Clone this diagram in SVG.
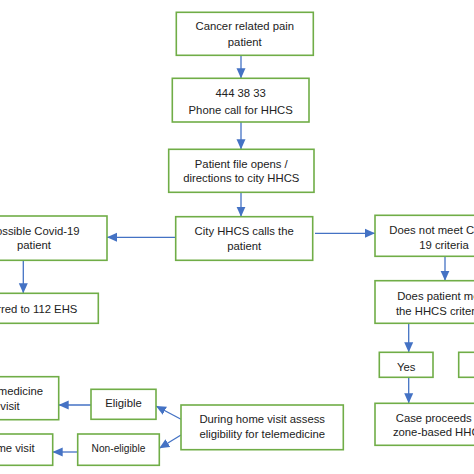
<svg xmlns="http://www.w3.org/2000/svg" width="474" height="474" viewBox="0 0 474 474">
<style>
.box{fill:#fff;stroke:#70AD47;stroke-width:1.6}
.t{font-family:"Liberation Sans",Arial,sans-serif;font-size:11.3px;fill:#222;text-anchor:middle}
.s{font-size:10.2px}
.c{stroke:#4472C4;stroke-width:1.3;fill:none;marker-end:url(#ah)}
</style>
<defs>
<marker id="ah" markerUnits="userSpaceOnUse" markerWidth="10" markerHeight="10" viewBox="0 0 10 10" refX="10" refY="5" orient="auto">
<path d="M0,0.5 L10,5 L0,9.5 Z" fill="#4472C4"/>
</marker>
</defs>
<rect width="474" height="474" fill="#fff"/>
<g id="connectors">
<line class="c" x1="241" y1="55.3" x2="241" y2="78.3"/>
<line class="c" x1="241" y1="122" x2="241" y2="149.3"/>
<line class="c" x1="241" y1="192.3" x2="241" y2="216.7"/>
<line class="c" x1="175.7" y1="237.3" x2="107" y2="237.3"/>
<line class="c" x1="315" y1="233.3" x2="375" y2="233.3"/>
<line class="c" x1="23.3" y1="260.3" x2="23.3" y2="293.3"/>
<line class="c" x1="445" y1="256.3" x2="445" y2="280.7"/>
<line class="c" x1="408.7" y1="323.3" x2="408.7" y2="352.3"/>
<line class="c" x1="408.7" y1="377.3" x2="408.7" y2="403.3"/>
<line class="c" x1="181" y1="419.3" x2="156" y2="406"/>
<line class="c" x1="181" y1="435" x2="159.3" y2="448.3"/>
<line class="c" x1="91" y1="405" x2="58.7" y2="405"/>
<line class="c" x1="80" y1="452" x2="52.7" y2="452"/>
</g>
<g id="n1"><rect class="box" x="176.3" y="12.3" width="137" height="43"/><text class="t" x="244.8" y="30">Cancer related pain</text><text class="t" x="244.8" y="45.7">patient</text></g>
<g id="n2"><rect class="box" x="172.3" y="78.3" width="136.7" height="43.7"/><text class="t" x="240.7" y="96.7">444 38 33</text><text class="t" x="240.7" y="113.5">Phone call for HHCS</text></g>
<g id="n3"><rect class="box" x="168.7" y="149.3" width="145.3" height="43"/><text class="t" x="241.3" y="168">Patient file opens /</text><text class="t" x="241.3" y="182.3">directions to city HHCS</text></g>
<g id="n4"><rect class="box" x="175.7" y="216.7" width="137" height="43.6"/><text class="t" x="244.2" y="235">City HHCS calls the</text><text class="t" x="244.2" y="250">patient</text></g>
<g id="n5"><rect class="box" x="-39" y="216" width="146" height="44.3"/><text class="t" x="34" y="234.7">Possible Covid-19</text><text class="t" x="34" y="249.3">patient</text></g>
<g id="n6"><rect class="box" x="-47.7" y="293.3" width="146" height="30"/><text class="t" x="25.3" y="313">Referred to 112 EHS</text></g>
<g id="n7"><rect class="box" x="375" y="215.3" width="138" height="41"/><text class="t" x="444" y="234">Does not meet Covid-</text><text class="t" x="444" y="248.7">19 criteria</text></g>
<g id="n8"><rect class="box" x="375" y="280.7" width="138" height="42.6"/><text class="t" x="443" y="299.7">Does patient meet</text><text class="t" x="443" y="314.7">the HHCS criteria?</text></g>
<g id="n9"><rect class="box" x="379.3" y="352.3" width="53.7" height="25"/><text class="t" x="406.2" y="370.7">Yes</text></g>
<g id="n10"><rect class="box" x="458.7" y="352.3" width="53.7" height="25"/><text class="t" x="485.5" y="370.7">No</text></g>
<g id="n11"><rect class="box" x="375" y="403.3" width="132" height="42"/><text class="t" x="440" y="421.7">Case proceeds to</text><text class="t" x="440" y="436.3">zone-based HHCS</text></g>
<g id="n12"><rect class="box" x="181" y="405" width="162.3" height="44.7"/><text class="t" x="262.2" y="423.3">During home visit assess</text><text class="t" x="262.2" y="438.3">eligibility for telemedicine</text></g>
<g id="n13"><rect class="box" x="91" y="389.3" width="65" height="30"/><text class="t" x="123.5" y="407.3">Eligible</text></g>
<g id="n14"><rect class="box" x="77.7" y="434" width="81.6" height="31.3"/><text class="t s" x="118.5" y="451.5">Non-eligible</text></g>
<g id="n15"><rect class="box" x="-38.7" y="376.7" width="97.4" height="43"/><text class="t" x="10" y="395">Telemedicine</text><text class="t" x="10" y="410">visit</text></g>
<g id="n16"><rect class="box" x="-36" y="434" width="88.7" height="31.3"/><text class="t" x="8.3" y="452.3">Home visit</text></g>
</svg>
